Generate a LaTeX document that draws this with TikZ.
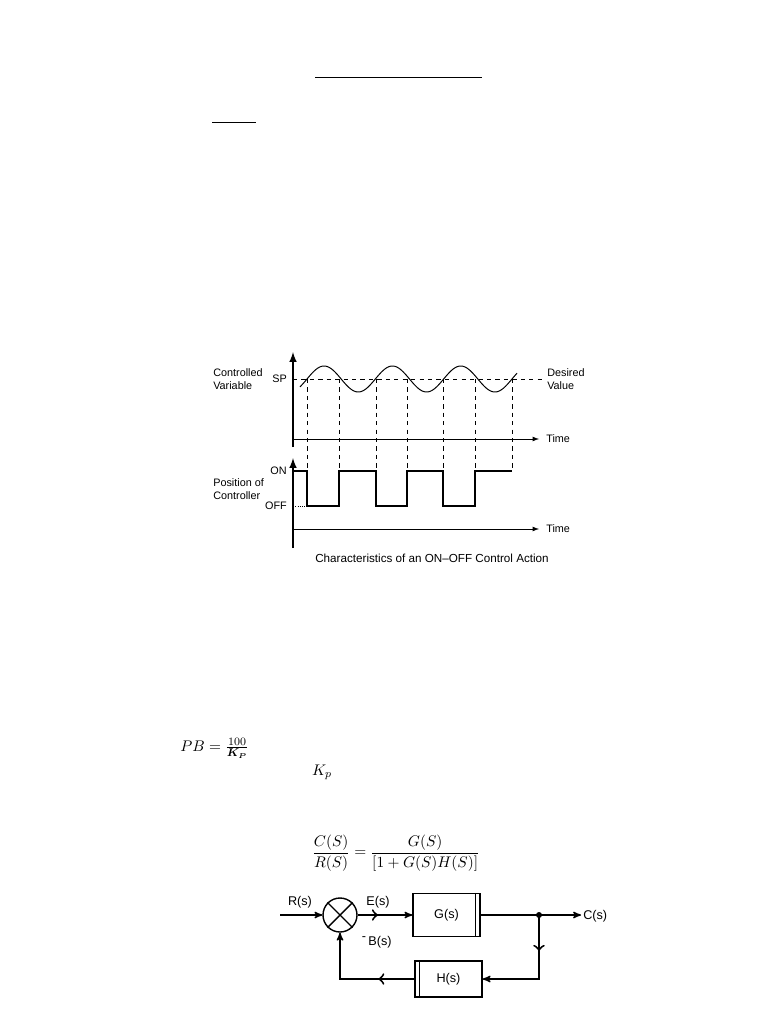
\documentclass[tikz,border=0pt]{standalone}
\usepackage{amsmath}
\usepackage{amssymb}
\usepackage{fontspec}
\usepackage{tikz}
\usetikzlibrary{positioning,shapes,arrows,decorations.markings}
\newfontfamily\arialfont{Liberation Sans}
\tikzstyle{wavelabel}=[font=\arialfont\fontsize{7.7}{9}\selectfont, inner sep=0pt, align=left]
\tikzstyle{blocklabel}=[font=\arialfont\fontsize{9}{10}\selectfont, inner sep=0pt]
\tikzstyle{block}=[rectangle, draw=black, line width=1pt, minimum width=16.75mm, inner sep=0pt,
font=\arialfont\fontsize{9}{10}\selectfont]
\tikzstyle{summer}=[circle, draw=black, line width=1pt, minimum size=8.5mm, inner sep=0pt]
\tikzstyle{signal}=[line width=1pt, -stealth']
\tikzstyle{axis}=[line width=1.4pt, -latex]
\tikzstyle{timeaxis}=[line width=0.6pt, -latex]
\tikzstyle{mathtext}=[font=\fontsize{11}{13}\selectfont, inner sep=0pt]
\tikzset{midarrow/.style={postaction={decorate}, decoration={markings,
    mark=at position #1 with {\arrow[scale=1.7, line width=0.8pt]{to}}}}}

\begin{document}
\begin{tikzpicture}[x=0.25mm, y=-0.25mm]
\useasboundingbox (0,0) rectangle (768,1024);
\draw[line width=0.6pt] (315,77) -- (482,77);
\draw[line width=0.6pt] (212,122) -- (256,122);

\draw[axis] (293,447) -- (293,352);
\draw[axis] (293,548) -- (293,458);
\draw[timeaxis] (293,439) -- (539,439);
\draw[timeaxis] (293,529) -- (539,529);
\draw[dashed, line width=0.6pt] (293,379) -- (543,379);
\draw[line width=0.7pt] plot[domain=300:517, samples=150] (\x, {379-13*sin((\x-307)*5.2685)});
\foreach \t in {307,339,376,407,443,475,512}
    \draw[dashed, line width=0.6pt] (\t,379) -- (\t,471);
\draw[line width=0.8pt] (293,471) -- (307,471) -- (307,506) -- (339,506) -- (339,471) -- (376,471)
    -- (376,506) -- (407,506) -- (407,471) -- (443,471) -- (443,506) -- (475,506) -- (475,471) -- (512,471);
\draw[densely dotted, line width=0.6pt] (293,506) -- (307,506);

\node (cv)[wavelabel, anchor=west] at (213,379) {Controlled\\Variable};
\node (sp)[wavelabel, anchor=east] at (287,379) {SP};
\node (dv)[wavelabel, anchor=west] at (547,379) {Desired\\Value};
\node (t1)[wavelabel, anchor=west] at (546,439) {Time};
\node (on)[wavelabel, anchor=east] at (287,471) {ON};
\node (off)[wavelabel, anchor=east] at (287,506) {OFF};
\node (pc)[wavelabel, anchor=west] at (213,489) {Position of\\Controller};
\node (t2)[wavelabel, anchor=west] at (546,529) {Time};
\node (cap)[wavelabel, font=\arialfont\fontsize{8.3}{10}\selectfont] at (432,558) {Characteristics of an ON–OFF Control Action};

\node (pb)[mathtext, anchor=west] at (180,748) {$PB=\frac{100}{\boldsymbol{K_P}}$};
\node (kp)[mathtext] at (322,772) {$K_p$};
\node (tf)[mathtext] at (396,853) {$\displaystyle\frac{C(S)}{R(S)}=\frac{G(S)}{[1+G(S)H(S)]}$};

\node (sum)[summer] at (340,915) {};
\draw[line width=1pt] (sum.north west) -- (sum.south east);
\draw[line width=1pt] (sum.north east) -- (sum.south west);
\node (G)[block, minimum height=10.75mm] at (446.5,915) {G(s)};
\node (H)[block, minimum height=9mm] at (448.5,979) {H(s)};
\draw[line width=0.8pt] ([xshift=-1.25mm]G.north east) -- ([xshift=-1.25mm]G.south east);
\draw[line width=0.8pt] ([xshift=1.25mm]H.north west) -- ([xshift=1.25mm]H.south west);
\coordinate (in) at (280,915);
\coordinate (out) at (581,915);
\coordinate (tap) at (539,915);
\coordinate (down) at (539,979);
\coordinate (back) at (340,979);

\draw[signal] (in) -- (sum);
\draw[signal, midarrow=0.375] (sum) -- (G);
\draw[signal] (G) -- (out);
\fill (tap) circle (3);
\draw[signal, midarrow=0.3] (tap) -- (down) -- (H);
\draw[signal, midarrow=0.3] (H) -- (back) -- (sum);

\node (rlab)[blocklabel] at (300,902) {R(s)};
\node (elab)[blocklabel] at (378,902) {E(s)};
\node (minus)[blocklabel] at (364,939) {-};
\node (blab)[blocklabel] at (380,942) {B(s)};
\node (clab)[blocklabel, anchor=west] at (583,916) {C(s)};
\end{tikzpicture}
\end{document}
